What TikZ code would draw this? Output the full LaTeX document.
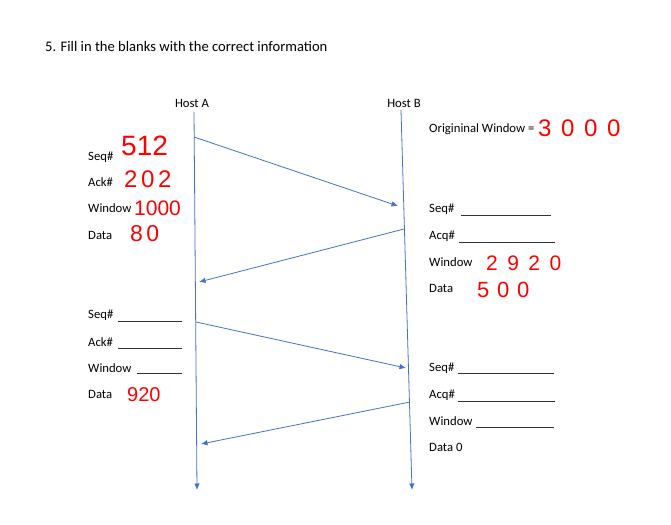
\documentclass[tikz,border=0pt]{standalone}
\usepackage{fontspec}
\setmainfont{Carlito}
\newfontfamily\handfont{Liberation Sans}
\usetikzlibrary{arrows.meta,positioning}
\definecolor{lineblue}{HTML}{4472C4}
\definecolor{inkred}{HTML}{FF0000}
\tikzset{
  lbl/.style={anchor=west, inner sep=0pt, font=\fontsize{12.7}{14}\selectfont},
  ink/.style n args={2}{anchor=west, inner sep=0pt, text=inkred,
    font=\handfont\fontsize{#1}{#1}\selectfont\addfontfeatures{LetterSpace=#2}},
  life/.style={lineblue, line width=0.8pt, -{Latex[length=6.5pt,width=5.5pt]}},
  msg/.style={lineblue, line width=0.8pt, -{Latex[length=6.5pt,width=5.5pt]}},
  blank/.style={black!80, line width=0.8pt}
}
\begin{document}
\begin{tikzpicture}[x=1pt, y=-1pt]
  \useasboundingbox (0,0) rectangle (671,524);
  \node[anchor=west, inner sep=0pt, font=\fontsize{14.6}{18}\selectfont] (title) at (45,46)
    {5. Fill in the blanks with the correct information};
  % hosts and time lines
  \node[lbl, anchor=center] (hostA) at (192,103) {Host A};
  \node[lbl, anchor=center] (hostB) at (404,103) {Host B};
  \coordinate (aTop) at (194,112); \coordinate (aBot) at (197,490);
  \coordinate (bTop) at (401,110); \coordinate (bBot) at (412,490);
  \draw[life] (aTop) -- (aBot);
  \draw[life] (bTop) -- (bBot);
  % segments
  \coordinate (a1) at (194,137); \coordinate (b1) at (398,206);
  \coordinate (b2) at (404,229); \coordinate (a2) at (199,282);
  \coordinate (a3) at (196,322); \coordinate (b3) at (406,368);
  \coordinate (b4) at (410,402); \coordinate (a4) at (201,444);
  \draw[msg] (a1) -- (b1);
  \draw[msg] (b2) -- (a2);
  \draw[msg] (a3) -- (b3);
  \draw[msg] (b4) -- (a4);
  % host A, first segment
  \node[lbl] (seqA1) at (88,157) {Seq\#};
  \node[lbl] (ackA1) at (88,182) {Ack\#};
  \node[lbl] (winA1) at (88,208) {Window};
  \node[lbl] (dataA1) at (88,235) {Data};
  \node[ink={28}{0}] (seqA1v) at (121,146) {512};
  \node[ink={24}{15}] (ackA1v) at (124,179) {202};
  \node[ink={21}{0}] (winA1v) at (134,208) {1000};
  \node[ink={23}{15}] (dataA1v) at (130,234) {80};
  % host B, reply
  \node[lbl] (orig) at (429,129) {Origininal Window =};
  \node[ink={24}{40}] (origv) at (538,128) {3000};
  \node[lbl] (seqB1) at (429,209) {Seq\#};
  \node[lbl] (acqB1) at (429,236) {Acq\#};
  \node[lbl] (winB1) at (429,262) {Window};
  \node[lbl] (dataB1) at (429,288) {Data};
  \draw[blank] (461,215) -- (551,215);
  \draw[blank] (459,242) -- (555,242);
  \node[ink={21}{45}] (winB1v) at (486,263) {2920};
  \node[ink={22}{35}] (dataB1v) at (477,290) {500};
  % host A, second segment
  \node[lbl] (seqA2) at (88,315) {Seq\#};
  \node[lbl] (ackA2) at (88,342) {Ack\#};
  \node[lbl] (winA2) at (88,368) {Window};
  \node[lbl] (dataA2) at (88,394) {Data};
  \draw[blank] (118,321) -- (182,321);
  \draw[blank] (118,348) -- (182,348);
  \draw[blank] (137,373) -- (182,373);
  \node[ink={20}{0}] (dataA2v) at (127,395) {920};
  % host B, second reply
  \node[lbl] (seqB2) at (429,368) {Seq\#};
  \node[lbl] (acqB2) at (429,395) {Acq\#};
  \node[lbl] (winB2) at (429,421) {Window};
  \node[lbl] (dataB2) at (429,447) {Data 0};
  \draw[blank] (458,373) -- (554,373);
  \draw[blank] (458,401) -- (555,401);
  \draw[blank] (476,427) -- (554,427);
\end{tikzpicture}
\end{document}
